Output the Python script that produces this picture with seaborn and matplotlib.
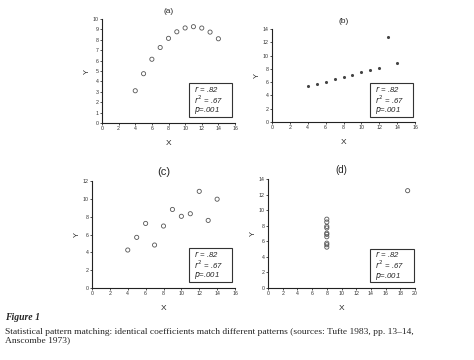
import matplotlib
matplotlib.use("Agg")
import matplotlib.pyplot as plt
from matplotlib.patches import Rectangle
import seaborn as sns
import pandas as pd

# panel (a) - Anscombe II
xa = [4, 5, 6, 7, 8, 9, 10, 11, 12, 13, 14]
ya = [3.10, 4.74, 6.13, 7.26, 8.14, 8.77, 9.14, 9.26, 9.13, 8.74, 8.10]
# panel (b) - Anscombe III
xb = [4, 5, 6, 7, 8, 9, 10, 11, 12, 13, 14]
yb = [5.39, 5.73, 6.08, 6.42, 6.77, 7.11, 7.46, 7.81, 8.15, 12.74, 8.84]
# panel (c) - Anscombe I
xc = [10, 8, 13, 9, 11, 14, 6, 4, 12, 7, 5]
yc = [8.04, 6.95, 7.58, 8.81, 8.33, 9.96, 7.24, 4.26, 10.84, 4.82, 5.68]
# panel (d) - Anscombe IV
xd = [8, 8, 8, 8, 8, 8, 8, 19, 8, 8, 8]
yd = [6.58, 5.76, 7.71, 8.84, 8.47, 7.04, 5.25, 12.50, 5.56, 7.91, 6.89]

stats_txt = "$r$ = .82\n$r^2$ = .67\n$p$=.001"

sns.set_style("white")
plt.rcParams["font.family"] = ["Liberation Sans", "DejaVu Sans"]

fig = plt.figure(figsize=(4.74, 3.6), dpi=100)

W, H = 474, 360
def box(l, t, r, b):
    return [l / W, 1 - b / H, (r - l) / W, (b - t) / H]

# title, x, y, axes rect, xmax, ymax, ystep, marker style, title size, stats box (x0, x1, y0, y1 in axes fraction)
panels = [
    ("(a)", xa, ya, box(102, 19, 235, 123), 16, 10, 1, "open", 6, (0.654, 0.977, 0.058, 0.385)),
    ("(b)", xb, yb, box(272, 29, 415, 122), 16, 14, 2, "dot", 6, (0.685, 0.986, 0.054, 0.42)),
    ("(c)", xc, yc, box(92, 181, 235, 288), 16, 12, 2, "open", 8, (0.678, 0.979, 0.056, 0.374)),
    ("(d)", xd, yd, box(268, 179, 415, 288), 20, 14, 2, "open", 7, (0.694, 0.993, 0.055, 0.358)),
]

for title, x, y, rect, xmax, ymax, ystep, style, tsize, sb in panels:
    ax = fig.add_axes(rect)
    df = pd.DataFrame({"X": x, "Y": y})
    if style == "open":
        sns.scatterplot(data=df, x="X", y="Y", ax=ax, marker="o", s=9,
                        facecolor="none", edgecolor="#555555", linewidth=0.6,
                        clip_on=False)
    else:
        sns.scatterplot(data=df, x="X", y="Y", ax=ax, marker="o", s=5,
                        color="#444444", linewidth=0, clip_on=False)
    ax.set_xlim(0, xmax)
    ax.set_ylim(0, ymax)
    ax.set_xticks(range(0, xmax + 1, 2))
    ax.set_yticks(range(0, ymax + 1, ystep))
    for s in ["top", "right"]:
        ax.spines[s].set_visible(False)
    for s in ["left", "bottom"]:
        ax.spines[s].set_linewidth(0.8)
        ax.spines[s].set_color("#222222")
    ax.tick_params(labelsize=3.8, length=1.5, width=0.6, pad=1, colors="#333333",
                   left=True, bottom=True)
    ax.set_xlabel("X", fontsize=6, labelpad=6)
    ax.set_ylabel("Y", fontsize=5.5, labelpad=1)
    ax.set_title(title, fontsize=tsize, pad=4)
    x0, x1, y0, y1 = sb
    ax.add_patch(Rectangle((x0, y0), x1 - x0, y1 - y0, transform=ax.transAxes,
                           fc="white", ec="#333333", lw=0.8, clip_on=False, zorder=3))
    ax.text(x0 + 0.035, (y0 + y1) / 2, stats_txt, transform=ax.transAxes, fontsize=5.6,
            style="italic", va="center", ha="left", linespacing=0.95, zorder=4)

fig.text(5 / W, 1 - 317 / H, "Figure 1", fontsize=7, fontweight="bold",
         style="italic", family="Liberation Serif", va="center")
fig.text(5 / W, 1 - 336 / H,
         "Statistical pattern matching: identical coefficients match different patterns (sources: Tufte 1983, pp. 13\u201314,\nAnscombe 1973)",
         fontsize=6.8, family="Liberation Serif", va="center", linespacing=1.1)

fig.savefig("out.png", dpi=100)
